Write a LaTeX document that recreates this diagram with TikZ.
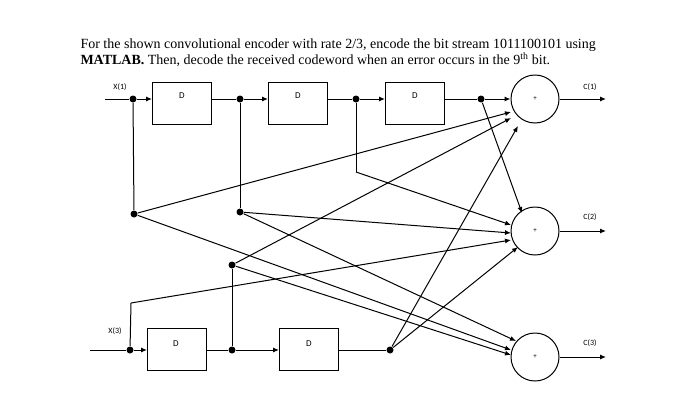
\documentclass[tikz,border=0pt]{standalone}
\usepackage{fontspec}
\setmainfont{Liberation Serif}
\newfontfamily\lab{Carlito}
\usetikzlibrary{arrows.meta}
\begin{document}
\begin{tikzpicture}[x=1pt,y=-1pt,line width=1pt,
  box/.style={draw,minimum width=59pt,minimum height=42pt,anchor=north west,inner sep=0pt},
  dot/.style={circle,fill,inner sep=0pt,minimum size=7pt},
  add/.style={circle,draw,minimum size=48pt,inner sep=0pt,font=\lab\scriptsize},
  lbl/.style={font=\lab\fontsize{8}{9}\selectfont},
  a/.style={-{Latex[length=6pt,width=5pt]}},
  dl/.style={font=\lab\fontsize{9}{10}\selectfont}]
\useasboundingbox (0,0) rectangle (700,407);
\node[anchor=north west,font=\fontsize{14}{15}\selectfont,align=left,inner sep=0pt] (title) at (80,38) {For the shown convolutional encoder with rate 2/3, encode the bit stream 1011100101 using\\\textbf{MATLAB.} Then, decode the received codeword when an error occurs in the 9\textsuperscript{th} bit.};
% top row
\coordinate (in1) at (105,99);
\node[dot] (d1) at (133,99) {};
\node[box] (b1) at (152,82) {};
\node[dl] at (182,96) {D};
\node[dot] (d2) at (240,99) {};
\node[box] (b2) at (268,82) {};
\node[dl] at (298,96) {D};
\node[dot] (d3) at (356,99) {};
\node[box] (b3) at (385,82) {};
\node[dl] at (415,96) {D};
\node[dot] (d4) at (481,99) {};
\node[add] (s1) at (535,99) {+};
\node[add] (s2) at (535,231) {+};
\node[add] (s3) at (535,357) {+};
\coordinate (o1) at (606,99);
\coordinate (o2) at (606,231);
\coordinate (o3) at (606,357);
\node[lbl] (x1) at (120,87) {X(1)};
\node[lbl] (c1) at (590,87) {C(1)};
\node[lbl] (c2) at (590,217) {C(2)};
\node[lbl] (c3) at (590,343) {C(3)};
\node[lbl] (x3) at (115,331) {X(3)};
% bottom row
\coordinate (in3) at (90,350);
\node[dot] (e1) at (130,350) {};
\node[box] (b4) at (147,328) {};
\node[dl] at (176,344) {D};
\node[dot] (e2) at (232,350) {};
\node[box] (b5) at (279,328) {};
\node[dl] at (309,344) {D};
\node[dot] (e3) at (390,350) {};
% branch dots
\node[dot] (f1) at (134,214) {};
\node[dot] (f2) at (240,212) {};
\node[dot] (f3) at (232,265) {};
\coordinate (k1) at (356,172);
\coordinate (k2) at (131,303);
% main lines
\draw (in1) -- (d1); \draw[a] (d1) -- (b1.west|-d1);
\draw (b1.east|-d1) -- (d2); \draw[a] (d2) -- (b2.west|-d2);
\draw (b2.east|-d2) -- (d3); \draw[a] (d3) -- (b3.west|-d3);
\draw (b3.east|-d3) -- (d4); \draw[a] (d4) -- (s1.west);
\draw[a] (s1.east) -- (o1);
\draw[a] (s2.east) -- (o2);
\draw[a] (s3.east) -- (o3);
\draw (in3) -- (e1); \draw[a] (e1) -- (b4.west|-e1);
\draw (b4.east|-e1) -- (e2); \draw[a] (e2) -- (b5.west|-e2);
\draw (b5.east|-e2) -- (e3);
% verticals
\draw (d1) -- (f1); \draw (d2) -- (f2); \draw (d3) -- (k1); \draw (e2) -- (f3); \draw (e1) -- (k2);
% cross connections
\draw[a] (f1) -- (511,112);
\draw[a] (f1) -- (511,350);
\draw[a] (f2) -- (511,233);
\draw[a] (f2) -- (516,341);
\draw[a] (f3) -- (511,118);
\draw[a] (f3) -- (511,355);
\draw[a] (d4) -- (522,213);
\draw[a] (k1) -- (511,225);
\draw[a] (k2) -- (511,240);
\draw[a] (e3) -- (518,126);
\draw[a] (e3) -- (518,247);
\end{tikzpicture}
\end{document}
